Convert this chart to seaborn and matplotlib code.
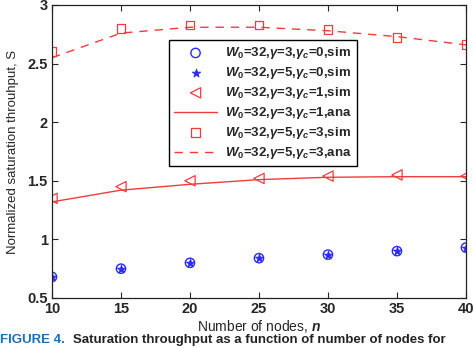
import matplotlib
matplotlib.use("Agg")
import matplotlib.pyplot as plt
import seaborn as sns
import pandas as pd
import numpy as np

nodes = [10, 15, 20, 25, 30, 35, 40]
s_g3_c0_sim = [0.68, 0.75, 0.80, 0.84, 0.87, 0.90, 0.93]
s_g5_c0_sim = [0.68, 0.75, 0.80, 0.84, 0.87, 0.90, 0.93]
s_g3_c1_sim = [1.35, 1.45, 1.50, 1.52, 1.54, 1.55, 1.54]
s_g3_c1_ana = [1.32, 1.42, 1.47, 1.51, 1.53, 1.535, 1.535]
s_g5_c3_sim = [2.60, 2.80, 2.83, 2.83, 2.79, 2.72, 2.66]
s_g5_c3_ana = [2.55, 2.76, 2.81, 2.81, 2.78, 2.73, 2.66]

labels = [
    r"$W_0$=32,$\gamma$=3,$\gamma_c$=0,sim",
    r"$W_0$=32,$\gamma$=5,$\gamma_c$=0,sim",
    r"$W_0$=32,$\gamma$=3,$\gamma_c$=1,sim",
    r"$W_0$=32,$\gamma$=3,$\gamma_c$=1,ana",
    r"$W_0$=32,$\gamma$=5,$\gamma_c$=3,sim",
    r"$W_0$=32,$\gamma$=5,$\gamma_c$=3,ana",
]

sns.set_style("ticks")
plt.rcParams['font.family'] = ['Liberation Sans', 'DejaVu Sans']
plt.rcParams['mathtext.fontset'] = 'custom'
plt.rcParams['mathtext.rm'] = 'Liberation Sans:bold'
plt.rcParams['mathtext.it'] = 'Liberation Sans:bold:italic'
plt.rcParams['mathtext.bf'] = 'Liberation Sans:bold'

fig = plt.figure(figsize=(4.74, 3.48), dpi=100)
ax = fig.add_axes([0.1097, 0.1437, 0.8733, 0.842])

blue = "#2a2af0"
red = "#f03c3c"

sns.scatterplot(x=nodes, y=s_g3_c0_sim, ax=ax, marker="o", s=45, facecolors="none",
                edgecolor=blue, linewidth=1.0, label=labels[0])
sns.scatterplot(x=nodes, y=s_g5_c0_sim, ax=ax, marker="*", s=40, color=blue,
                edgecolor=blue, linewidth=0.6, label=labels[1])
sns.scatterplot(x=nodes, y=s_g3_c1_sim, ax=ax, marker="<", s=55, facecolors="none",
                edgecolor=red, linewidth=0.9, label=labels[2])
sns.lineplot(x=nodes, y=s_g3_c1_ana, ax=ax, color=red, linewidth=1.0, label=labels[3])
sns.scatterplot(x=nodes, y=s_g5_c3_sim, ax=ax, marker="s", s=40, facecolors="none",
                edgecolor=red, linewidth=0.9, label=labels[4])
sns.lineplot(x=nodes, y=s_g5_c3_ana, ax=ax, color=red, linewidth=1.0, linestyle=(0, (6, 5)),
             label=labels[5])

ax.set_xlim(10, 40)
ax.set_ylim(0.5, 3)
ax.set_xticks([10, 15, 20, 25, 30, 35, 40])
ax.set_yticks([0.5, 1, 1.5, 2, 2.5, 3])
ax.set_yticklabels(["0.5", "1", "1.5", "2", "2.5", "3"])
ax.tick_params(direction="in", top=True, right=True, length=4, width=0.8,
               labelsize=10.5, pad=3)
for lab in ax.get_xticklabels() + ax.get_yticklabels():
    lab.set_fontweight("bold")
for sp in ax.spines.values():
    sp.set_linewidth(0.9)
    sp.set_color("#222222")

ax.set_xlabel(r"Number of nodes, $\mathit{n}$", fontsize=10, labelpad=1)
ax.set_ylabel("Normalized saturation throuhput, S", fontsize=9.5, labelpad=6)

leg = ax.legend(loc="upper left", bbox_to_anchor=(0.283, 0.88), fontsize=9.5,
                frameon=True, fancybox=False, edgecolor="black", framealpha=1,
                handlelength=3.2, handletextpad=0.6, borderpad=0.4, labelspacing=0.3,
                borderaxespad=0)
leg.get_frame().set_linewidth(1.0)
for t in leg.get_texts():
    t.set_fontweight("bold")

fig.text(0.0, 0.006, "FIGURE 4.", color="#1f6fb5", fontsize=9.5, fontweight="bold",
         va="bottom", ha="left")
fig.text(0.155, 0.006, "Saturation throughput as a function of number of nodes for",
         color="#222222", fontsize=9.5, fontweight="bold", va="bottom", ha="left")

fig.savefig("out.png", dpi=100)
